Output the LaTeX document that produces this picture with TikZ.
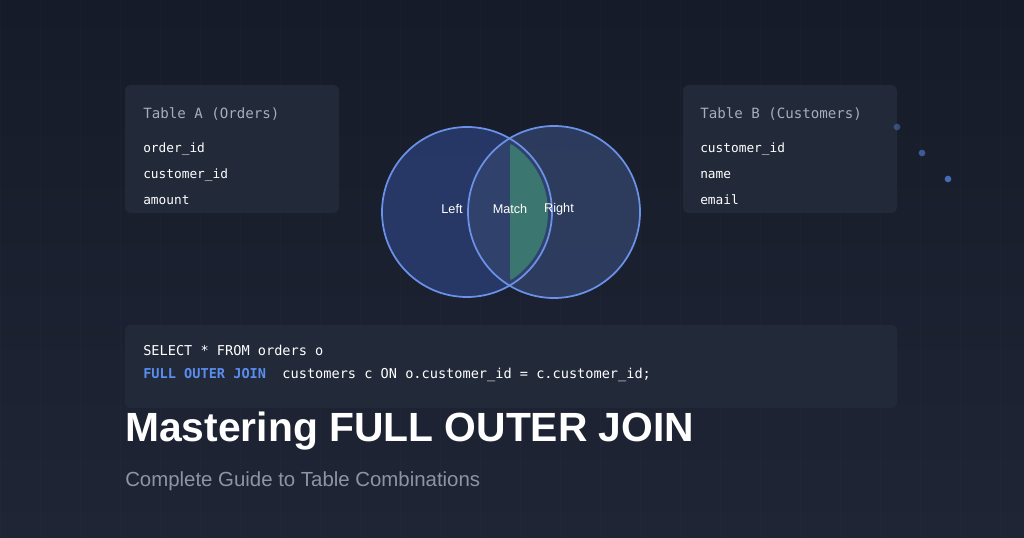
\documentclass[tikz,border=0pt]{standalone}
\usepackage{fontspec}
\setmainfont{Liberation Sans}
\setmonofont{DejaVu Sans Mono}
\usetikzlibrary{positioning}
\definecolor{bgtop}{HTML}{161B29}
\definecolor{bgbot}{HTML}{1F2535}
\definecolor{panel}{HTML}{222A3A}
\definecolor{ring}{HTML}{6A92E8}
\definecolor{fillL}{HTML}{2A3C70}
\definecolor{fillR}{HTML}{34466E}
\definecolor{match}{HTML}{3F8A72}
\definecolor{kw}{HTML}{5B8DEF}
\definecolor{headgray}{HTML}{A6AEBB}
\definecolor{subgray}{HTML}{8C95A6}
\tikzset{
  panelbox/.style={fill=panel,rounded corners=4pt,draw=none},
  field/.style={anchor=west,text=white,font=\ttfamily\fontsize{9.6}{12}\selectfont,inner sep=0pt},
  head/.style={anchor=west,text=headgray,font=\ttfamily\fontsize{10.6}{13}\selectfont,inner sep=0pt},
  venn/.style={draw=ring,line width=1.3pt},
  vlabel/.style={text=white,font=\fontsize{9.5}{11}\selectfont,inner sep=0pt},
  dot/.style={circle,fill=kw!70!bgtop,inner sep=0pt,minimum size=5pt}
}
\begin{document}
\begin{tikzpicture}[x=0.75pt,y=-0.75pt]
	%background
	\shade[top color=bgtop,bottom color=bgbot] (0,0) rectangle (1024,538);
	\useasboundingbox (0,0) rectangle (1024,538);
	\draw[white,opacity=0.015,step=40] (0,0) grid (1024,538);

	%tables
	\fill[panelbox] (125,85) rectangle (339,213);
	\node[head] (headA) at (143,114) {Table A (Orders)};
	\node[field] (a1) at (143,149) {order\_id};
	\node[field] (a2) at (143,175) {customer\_id};
	\node[field] (a3) at (143,200) {amount};

	\fill[panelbox] (683,85) rectangle (897,213);
	\node[head] (headB) at (700,114) {Table B (Customers)};
	\node[field] (b1) at (700,149) {customer\_id};
	\node[field] (b2) at (700,175) {name};
	\node[field] (b3) at (700,200) {email};

	%dots
	\node[dot,opacity=0.6] (d1) at (897,127) {};
	\node[dot,opacity=0.8] (d2) at (922,153) {};
	\node[dot] (d3) at (948,179) {};

	%venn
	\fill[fillL,opacity=0.85] (467,212) circle (85);
	\fill[fillR,opacity=0.75] (554,212) circle (86);
	\begin{scope}
		\clip (510,100) rectangle (600,320);
		\clip (467,212) circle (81);
		\fill[match,opacity=0.75] (554,212) circle (80);
	\end{scope}
	\draw[venn] (467,212) circle (85);
	\draw[venn] (554,212) circle (86);
	\node[vlabel] (left) at (452,209) {Left};
	\node[vlabel] (mid) at (510,209) {Match};
	\node[vlabel] (right) at (559,209) {Right};

	%code
	\fill[panelbox] (125,325) rectangle (897,408);
	\node[field,font=\ttfamily\fontsize{10.2}{12}\selectfont] (q1) at (143,350) {SELECT * FROM orders o};
	\node[field,font=\ttfamily\fontsize{10.2}{12}\selectfont] (q2) at (143,375) {\textcolor{kw}{\bfseries FULL OUTER JOIN}\ \ customers c ON o.customer\_id = c.customer\_id;};

	%titles
	\node[anchor=west,inner sep=0pt,text=white,font=\bfseries\fontsize{30.6}{34}\selectfont] (title) at (125,431) {Mastering FULL OUTER JOIN};
	\node[anchor=west,inner sep=0pt,text=subgray,font=\fontsize{15.3}{18}\selectfont] (sub) at (125,481) {Complete Guide to Table Combinations};
\end{tikzpicture}
\end{document}
